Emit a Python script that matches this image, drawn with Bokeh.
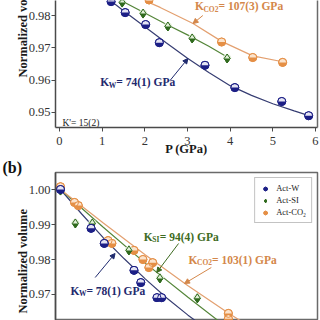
import numpy as np
from bokeh.plotting import figure
from bokeh.layouts import column
from bokeh.models import (Label, Arrow, NormalHead, Legend, LegendItem, Range1d,
                          FixedTicker, NumeralTickFormatter, Title, LinearAxis)
from bokeh.embed import file_html
from bokeh.resources import INLINE

SERIF = "Liberation Serif"

# ---------------- panel (a): pressure (GPa) vs normalized volume ----------------
w_a_p = [1.21, 1.54, 2.02, 2.34, 3.41, 4.11, 5.21, 5.84]
w_a_v = [0.9843, 0.9809, 0.9772, 0.9716, 0.9646, 0.9577, 0.9534, 0.9490]
si_a_p = [1.47, 1.96, 2.54, 3.11, 3.93]
si_a_v = [0.9840, 0.9806, 0.9766, 0.9729, 0.9667]
co2_a_p = [2.10, 3.80, 4.53, 5.23]
co2_a_v = [0.9848, 0.9718, 0.9670, 0.9655]

# EoS fit curves, panel (a)
w_a_fit_p = [1.0, 1.5, 2.0, 2.5, 3.0, 3.5, 4.0, 4.5, 5.0, 5.5, 5.9]
w_a_fit_v = [0.9866, 0.9815, 0.9765, 0.9716, 0.9668, 0.9624, 0.9583, 0.9553, 0.9527, 0.9505, 0.9488]
si_a_fit_p = [1.3, 2.0, 2.5, 3.0, 3.5, 3.95]
si_a_fit_v = [0.9856, 0.9808, 0.9773, 0.9740, 0.9705, 0.9670]
co2_a_fit_p = [2.0, 2.36, 3.13, 3.8, 4.53, 5.23]
co2_a_fit_v = [0.9846, 0.9825, 0.9775, 0.9720, 0.9675, 0.9657]

# ---------------- panel (b) ----------------
w_b_p = [0.0, 0.72, 1.03, 1.73, 1.89, 2.27, 2.38]
w_b_v = [1.0000, 0.9889, 0.9846, 0.9769, 0.9734, 0.9691, 0.9691]
si_b_p = [0.0, 0.35, 0.75, 1.61, 2.34, 3.22]
si_b_v = [0.9997, 0.9903, 0.9903, 0.9826, 0.9746, 0.9689]
co2_b_p = [0.0, 0.33, 0.42, 1.12, 1.21, 1.73, 1.94, 2.08, 2.17, 3.95, 3.95]
co2_b_v = [1.0008, 0.9963, 0.9954, 0.9854, 0.9846, 0.9826, 0.9800, 0.9777, 0.9791, 0.9646, 0.9631]

w_b_fit_p = [0.0, 0.5, 1.0, 1.5, 2.0, 2.5, 3.0, 3.3]
w_b_fit_v = [1.0, 0.9930, 0.9863, 0.9802, 0.9744, 0.9690, 0.9641, 0.9614]
si_b_fit_p = [0.0, 1.0, 2.0, 3.0, 4.0]
si_b_fit_v = [1.0, 0.9893, 0.9789, 0.9692, 0.9598]
co2_b_fit_p = [0.0, 1.0, 2.0, 3.0, 4.0, 4.5]
co2_b_fit_v = [1.0, 0.9905, 0.9813, 0.9725, 0.9643, 0.9605]

x_ticks = [0, 1, 2, 3, 4, 5, 6]
ya_ticks = [0.95, 0.96, 0.97, 0.98]
yb_ticks = [0.97, 0.98, 0.99, 1.00]

NAVY, NAVY_LT, NAVY_LN = "#1c1f86", "#e4e4f4", "#363d72"
GREEN, GREEN_LT, GREEN_LN = "#2f6a1d", "#e2efd9", "#55863a"
ORANGE, ORANGE_LT, ORANGE_LN = "#e58f45", "#fbe3cc", "#e3a070"
TXT_W, TXT_SI, TXT_CO2 = "#1f2a6e", "#3e6b22", "#d4874a"
AXIS = "#4a4a4a"


def style(p, yticks):
    p.xgrid.visible = False
    p.ygrid.visible = False
    p.outline_line_color = "#6a6a6a"
    p.outline_line_width = 1.5
    for ax in (p.xaxis, p.yaxis):
        ax.axis_line_color = AXIS
        ax.axis_line_width = 1.5
        ax.major_tick_line_color = AXIS
        ax.major_tick_in = 0
        ax.major_tick_out = 4
        ax.minor_tick_line_color = None
        ax.major_label_text_font = SERIF
        ax.major_label_text_font_size = "12.5px"
        ax.major_label_text_color = "#333333"
    p.xaxis.ticker = FixedTicker(ticks=x_ticks)
    p.xaxis.major_label_standoff = 5
    p.yaxis.ticker = FixedTicker(ticks=yticks)
    p.yaxis.formatter = NumeralTickFormatter(format="0.00")
    p.yaxis.major_label_standoff = 1


def half_marker(p, xs, ys, marker, size, dark, light):
    base = p.scatter(xs, ys, marker=marker, size=size, fill_color=dark,
                     line_color=dark, line_width=1)
    p.wedge(xs, ys, radius=size / 2 - 0.3, radius_units="screen",
            start_angle=0, end_angle=np.pi, fill_color=light, line_color=None)
    rim = p.scatter(xs, ys, marker=marker, size=size, fill_color=None,
                    line_color=dark, line_width=1)
    return [base, rim]


def k_label(p, x, y, sub, rest, color, rest_dx):
    common = dict(x=x, y=y, text_font=SERIF, text_font_style="bold",
                  text_color=color, text_baseline="middle")
    p.add_layout(Label(text="K", text_font_size="11.5px", **common))
    p.add_layout(Label(text=sub, text_font_size="7.5px", x_offset=8.5,
                       y_offset=-3, **common))
    p.add_layout(Label(text=rest, text_font_size="11.5px", x_offset=rest_dx, **common))


def arrow(p, x0, y0, x1, y1, color):
    p.add_layout(Arrow(end=NormalHead(size=5, fill_color=color, line_color=color,
                                      line_width=1),
                       x_start=x0, y_start=y0, x_end=x1, y_end=y1,
                       line_color=color, line_width=1))


def y_title(p, offset):
    p.add_layout(Title(text="Normalized volume", align="left", offset=offset,
                       standoff=-8, text_font=SERIF, text_font_style="bold",
                       text_font_size="12.5px", text_color="#1a1a1a"), "left")


# ---------------- figure (a) ----------------
pa = figure(width=320, height=160, output_backend="svg", toolbar_location=None,
            x_range=Range1d(-0.093, 6.047), y_range=Range1d(0.94536, 0.98464),
            min_border_left=55, min_border_right=2, min_border_top=0,
            min_border_bottom=33, background_fill_color="white",
            border_fill_color="white")
style(pa, ya_ticks)
pa.outline_line_color = None
pa.add_layout(LinearAxis(ticker=FixedTicker(ticks=[]), major_tick_out=0,
                         major_tick_in=0, axis_line_color="#6a6a6a",
                         axis_line_width=1.5, major_label_standoff=0), "right")
pa.xaxis[0].axis_label = "P (GPa)"
pa.xaxis[0].axis_label_text_font = SERIF
pa.xaxis[0].axis_label_text_font_style = "bold"
pa.xaxis[0].axis_label_text_font_size = "12.5px"
pa.xaxis[0].axis_label_text_color = "#1a1a1a"
pa.xaxis[0].axis_label_standoff = -6

pa.line(w_a_fit_p, w_a_fit_v, line_color=NAVY_LN, line_width=1.2)
pa.line(si_a_fit_p, si_a_fit_v, line_color=GREEN_LN, line_width=1.2)
pa.line(co2_a_fit_p, co2_a_fit_v, line_color=ORANGE_LN, line_width=1.2)
half_marker(pa, co2_a_p, co2_a_v, "circle", 8, ORANGE, ORANGE_LT)
half_marker(pa, si_a_p, si_a_v, "diamond", 9, GREEN, GREEN_LT)
half_marker(pa, w_a_p, w_a_v, "circle", 8, NAVY, NAVY_LT)

k_label(pa, 3.175, 0.98279, "CO2", "= 107(3) GPa", TXT_CO2, 23.5)
arrow(pa, 3.36, 0.9800, 3.13, 0.97752, TXT_CO2)
k_label(pa, 0.957, 0.9593, "W", "= 74(1) GPa", TXT_W, 16)
arrow(pa, 2.59, 0.95988, 3.01, 0.96669, TXT_W)
pa.add_layout(Label(x=0.07, y=0.94684, text="K'= 15(2)", text_font=SERIF,
                    text_font_size="9.5px", text_color="#222222",
                    text_baseline="middle"))
y_title(pa, 50)

# ---------------- figure (b) ----------------
pb = figure(width=320, height=160, output_backend="svg", toolbar_location=None,
            x_range=Range1d(-0.117, 6.047), y_range=Range1d(0.96257, 1.00486),
            min_border_left=53, min_border_right=3, min_border_top=12,
            min_border_bottom=0, background_fill_color="white",
            border_fill_color="white")
style(pb, yb_ticks)
pb.xaxis.visible = False

pb.line(w_b_fit_p, w_b_fit_v, line_color=NAVY_LN, line_width=1.2)
pb.line(si_b_fit_p, si_b_fit_v, line_color=GREEN_LN, line_width=1.2)
pb.line(co2_b_fit_p, co2_b_fit_v, line_color=ORANGE_LN, line_width=1.2)
r_co2 = half_marker(pb, co2_b_p, co2_b_v, "circle", 8, ORANGE, ORANGE_LT)
r_si = half_marker(pb, si_b_p, si_b_v, "diamond", 9, GREEN, GREEN_LT)
r_w = half_marker(pb, w_b_p, w_b_v, "circle", 8, NAVY, NAVY_LT)

k_label(pb, 1.961, 0.98657, "SI", "= 94(4) GPa", TXT_SI, 16)
arrow(pb, 2.778, 0.98457, 2.265, 0.97629, TXT_SI)
k_label(pb, 3.012, 0.9800, "CO2", "= 103(1) GPa", TXT_CO2, 23.5)
arrow(pb, 3.549, 0.97771, 2.918, 0.97314, TXT_CO2)
k_label(pb, 0.233, 0.97114, "W", "= 78(1) GPa", TXT_W, 16)
arrow(pb, 0.817, 0.97486, 1.284, 0.98171, TXT_W)

pb.add_layout(Title(text="(b)", align="left", offset=-53, standoff=-7,
                    text_font=SERIF, text_font_style="bold", text_font_size="16px",
                    text_color="#111111"), "above")
y_title(pb, 7)

legend = Legend(items=[LegendItem(label="Act-W", renderers=r_w),
                       LegendItem(label="Act-SI", renderers=r_si),
                       LegendItem(label="Act-CO\u2082", renderers=r_co2)],
                location="top_right", margin=5, padding=5, spacing=2,
                glyph_width=10, glyph_height=9, label_height=9, label_standoff=6,
                label_text_font=SERIF, label_text_font_size="8.5px",
                label_text_color="#222222", border_line_color="#888888",
                border_line_width=1, background_fill_color="white")
pb.add_layout(legend)

layout = column(pa, pb, spacing=0)
open("out.html", "w").write(file_html(layout, INLINE))
